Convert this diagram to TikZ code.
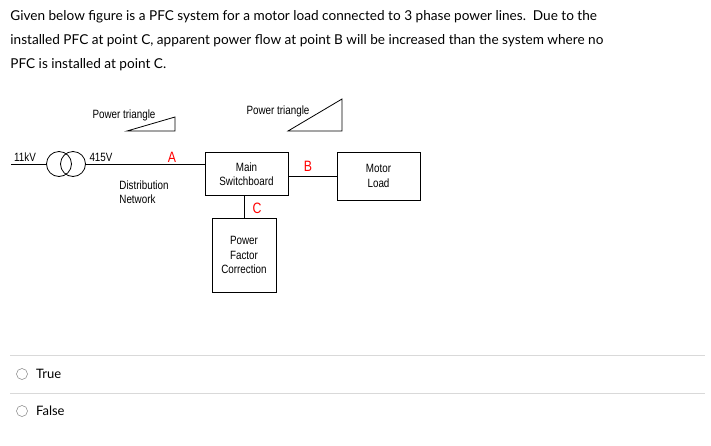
\documentclass[tikz,border=0pt]{standalone}
\usepackage{fontspec}
\setmainfont{Lato}
\newfontfamily\diafont{Liberation Sans}[FakeStretch=0.82]
\usetikzlibrary{positioning}
\begin{document}
\begin{tikzpicture}[
        x = 1pt, y = -1pt, % pixel grid
        line width = 0.8pt,
        box/.style = {draw = black, thick, align = center, font = \diafont\fontsize{12}{14.5}\selectfont},
        lbl/.style = {font = \diafont\fontsize{12}{14.5}\selectfont, inner sep = 0pt},
        point/.style = {font = \diafont\fontsize{15}{16}\selectfont, text = red, inner sep = 0pt},
        opt/.style = {font = \fontsize{13}{15}\selectfont, inner sep = 0pt, anchor = west}
    ]

    \useasboundingbox (0,0) rectangle (711,445);

    % question
    \node[font = \fontsize{13.6}{24}\selectfont, align = left, anchor = north west, inner sep = 0pt] (q) at (10,10)
        {Given below figure is a PFC system for a motor load connected to 3 phase power lines.\ \ Due to the\\
         installed PFC at point C, apparent power flow at point B will be increased than the system where no\\
         PFC is installed at point C.};

    % transformer
    \node[draw, circle, minimum size = 25pt, inner sep = 0pt] (t1) at (59,164) {};
    \node[draw, circle, minimum size = 25pt, inner sep = 0pt] (t2) at (73,164) {};
    \coordinate (in) at (11,164);
    \draw (in) -- (t1.west);
    \node[lbl] (hv) at (25,157) {11kV};
    \node[lbl] (lv) at (101,157) {415V};

    % boxes
    \node[box, minimum width = 83pt, minimum height = 43pt] (msb) at (246.5,174) {Main\\Switchboard};
    \node[box, minimum width = 83pt, minimum height = 48pt] (motor) at (378.5,176) {Motor\\Load};
    \node[box, minimum width = 64pt, minimum height = 74pt] (pfc) at (244,255) {Power\\Factor\\Correction};

    % connections
    \draw (t2.east) -- (msb.west |- t2.east);
    \draw (msb.east |- motor.west) -- (motor.west);
    \draw (msb.south -| pfc.north) -- (pfc.north);

    \node[point] (pa) at (172,157) {A};
    \node[point] (pb) at (308,166) {B};
    \node[point] (pc) at (257,208) {C};
    \node[lbl, align = left, anchor = north west] (dist) at (119,180) {Distribution\\Network};

    % power triangles
    \node[lbl] (pt1) at (124,115) {Power triangle};
    \coordinate (p1a) at (127,131);
    \coordinate (p1b) at (175,131);
    \coordinate (p1c) at (175,117);
    \draw (p1a) -- (p1b) -- (p1c) -- cycle;
    \node[lbl] (pt2) at (278,111) {Power triangle};
    \coordinate (p2a) at (288,131);
    \coordinate (p2b) at (342,131);
    \coordinate (p2c) at (342,99);
    \draw (p2a) -- (p2b) -- (p2c) -- cycle;

    % answers
    \draw[gray!30, line width = 0.6pt] (10,355) -- (705,355);
    \draw[gray!30, line width = 0.6pt] (10,393) -- (705,393);
    \node[draw = gray, circle, minimum size = 11pt, inner sep = 0pt, line width = 0.5pt] (r1) at (22,374) {};
    \node[draw = gray, circle, minimum size = 11pt, inner sep = 0pt, line width = 0.5pt] (r2) at (22,411) {};
    \node[opt, right = 8pt of r1] (o1) {True};
    \node[opt, right = 8pt of r2] (o2) {False};
\end{tikzpicture}
\end{document}
